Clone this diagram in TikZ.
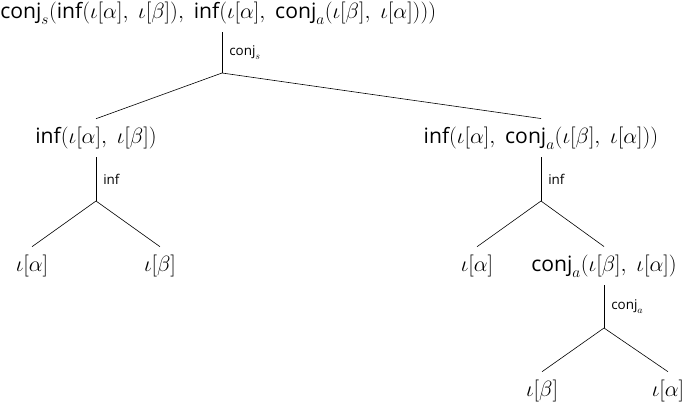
\RequirePackage{fix-cm}
\documentclass[tikz,border=0pt]{standalone}
\usepackage{fontspec}
\setsansfont{Open Sans}[Scale=0.96]
\newcommand{\opconj}{\textsf{conj}}
\newcommand{\opinf}{\textsf{inf}}
\tikzset{
    term/.style={inner sep=8pt,font=\fontsize{22}{26}\selectfont},
    lab/.style={right,inner sep=7pt,font=\fontsize{14}{17}\selectfont}
}
\begin{document}
\begin{tikzpicture}[x=1pt,y=-1pt,line width=.6pt]
            \useasboundingbox (0,0) rectangle (685,402);
            % nodes
            \node[term,anchor=west] (root) at (-8,13){$\opconj_s(\opinf(\iota[\alpha],\;\iota[\beta]),\;\opinf(\iota[\alpha],\;\opconj_a(\iota[\beta],\;\iota[\alpha])))$};
            \node[term] (l) at (96,138){$\opinf(\iota[\alpha],\;\iota[\beta])$};
            \node[term] (r) at (541,138){$\opinf(\iota[\alpha],\;\opconj_a(\iota[\beta],\;\iota[\alpha]))$};
            \node[term] (ll) at (32,266){$\iota[\alpha]$};
            \node[term] (lr) at (160,266){$\iota[\beta]$};
            \node[term] (rl) at (477,266){$\iota[\alpha]$};
            \node[term] (rr) at (604,266){$\opconj_a(\iota[\beta],\;\iota[\alpha])$};
            \node[term] (rrl) at (542,391){$\iota[\beta]$};
            \node[term] (rrr) at (668,391){$\iota[\alpha]$};
            % branch points
            \coordinate (root-b) at (222,73);
            \coordinate (l-b) at (96,201);
            \coordinate (r-b) at (541,201);
            \coordinate (rr-b) at (604,328);
            % edges
            \draw[-](root.south -| root-b)--(root-b)node[lab,midway]{$\opconj_s$};
            \draw[-](root-b)--(l.north);
            \draw[-](root-b)--(r.north);
            \draw[-](l.south)--(l-b)node[lab,midway]{\opinf};
            \draw[-](l-b)--(ll.north);
            \draw[-](l-b)--(lr.north);
            \draw[-](r.south)--(r-b)node[lab,midway]{\opinf};
            \draw[-](r-b)--(rl.north);
            \draw[-](r-b)--(rr.north);
            \draw[-](rr.south)--(rr-b)node[lab,midway]{$\opconj_a$};
            \draw[-](rr-b)--(rrl.north);
            \draw[-](rr-b)--(rrr.north);
\end{tikzpicture}
\end{document}
